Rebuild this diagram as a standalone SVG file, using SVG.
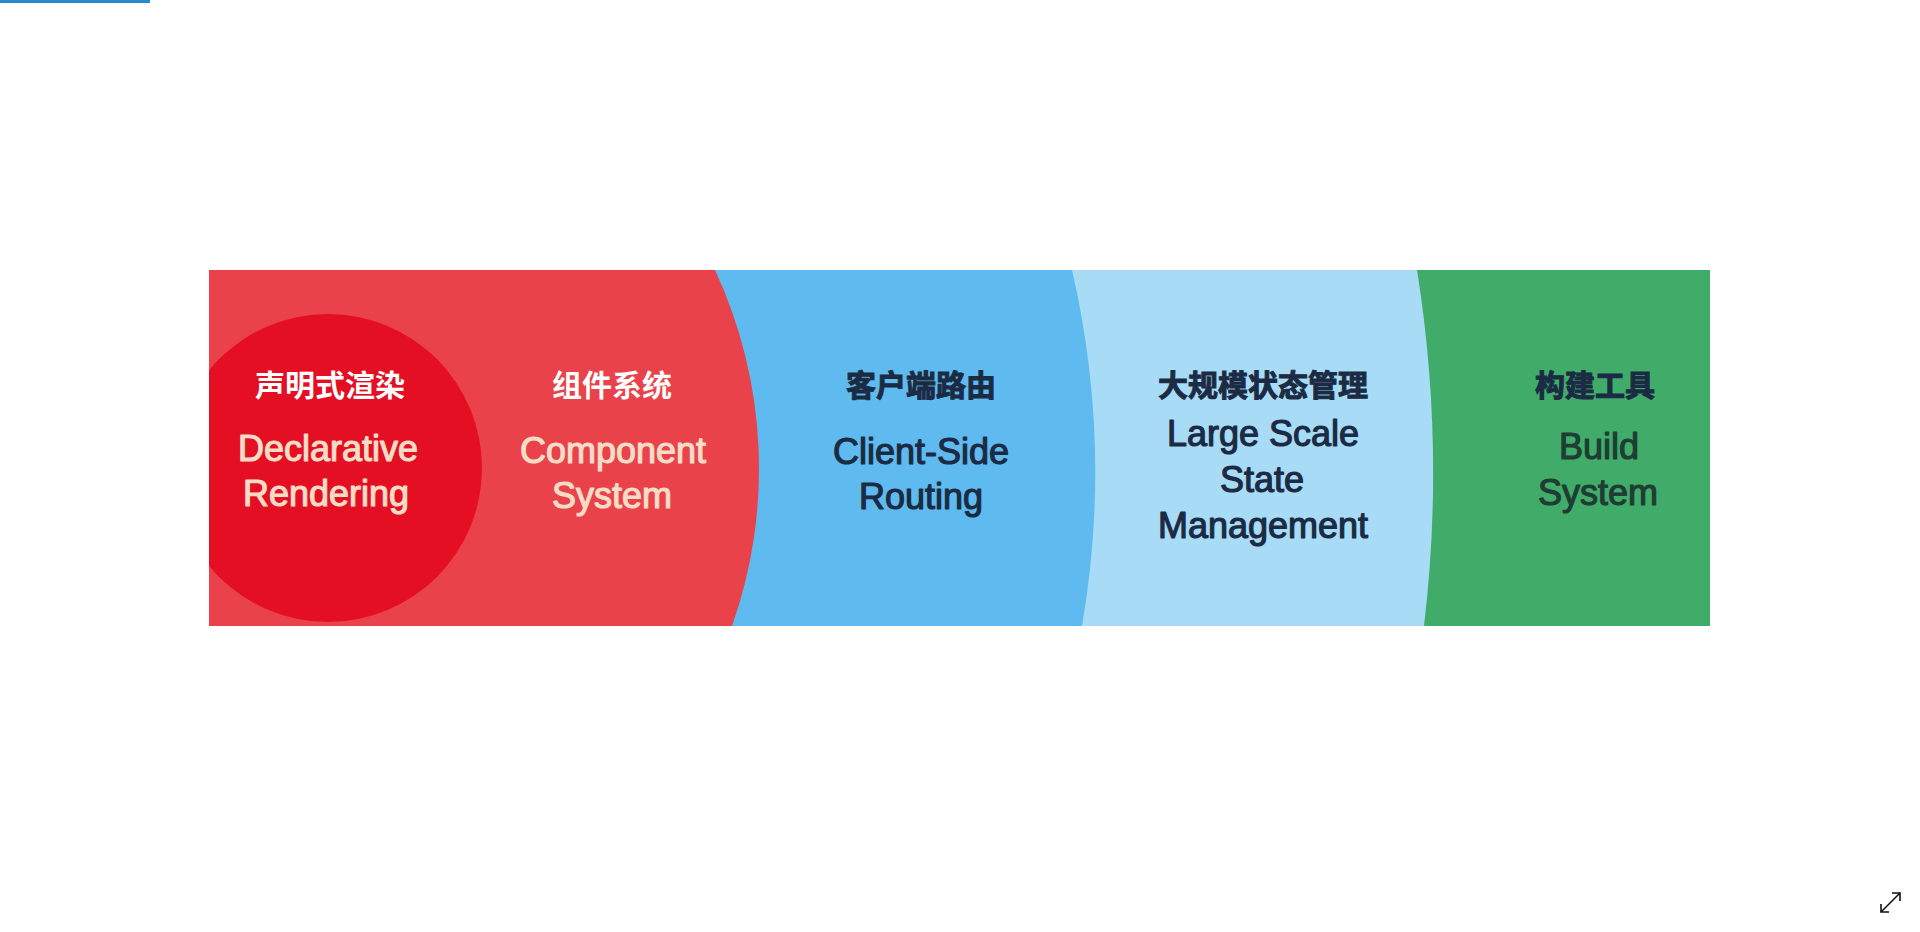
<svg xmlns="http://www.w3.org/2000/svg" width="1920" height="932" viewBox="0 0 1920 932">
  <style>
    .cn { font-family: "Noto Sans CJK SC", "Noto Sans", sans-serif; font-weight: 700; font-size: 30px; text-anchor: middle; }
    .en { font-family: "Liberation Sans", Arial, sans-serif; font-size: 36px; text-anchor: middle; stroke-width: 1.2px; stroke-linejoin: round; }
    .cream { fill: #f6dcc6; stroke: #f6dcc6; }
    .navy { fill: #1b2b44; stroke: #1b2b44; }
    .dkgreen { fill: #1e3d34; stroke: #1e3d34; }
  </style>
  <defs>
    <clipPath id="band">
      <rect x="209" y="270" width="1501" height="356"/>
    </clipPath>
  </defs>
  <rect width="1920" height="932" fill="#ffffff"/>
  <rect x="0" y="0" width="150" height="3" fill="#2a88cc"/>

  <g id="bands" clip-path="url(#band)">
    <rect id="band-green" x="209" y="270" width="1501" height="356" fill="#41ac69"/>
    <path id="band-lightblue" d="M209,270 L1417,270 A1290,1290 0 0 1 1424,626 L209,626 Z" fill="#a8dbf6"/>
    <path id="band-blue" d="M209,270 L1072,270 A901,901 0 0 1 1082,626 L209,626 Z" fill="#5fbbef"/>
    <path id="band-red" d="M209,270 L715,270 A471,471 0 0 1 732,626 L209,626 Z" fill="#e9424b"/>
    <circle id="band-core" cx="328" cy="468" r="154" fill="#e40f22"/>
  </g>

  <g id="node-declarative">
    <text class="cn" x="330" y="396" fill="#ffffff">声明式渲染</text>
    <text class="en cream" x="328" y="461">Declarative</text>
    <text class="en cream" x="326" y="506">Rendering</text>
  </g>
  <g id="node-component">
    <text class="cn" x="612" y="396" fill="#ffffff">组件系统</text>
    <text class="en cream" x="613" y="463">Component</text>
    <text class="en cream" x="612" y="508">System</text>
  </g>
  <g id="node-routing">
    <text class="cn navy" x="921" y="396" stroke="none">客户端路由</text>
    <text class="en navy" x="921" y="464">Client-Side</text>
    <text class="en navy" x="921" y="509">Routing</text>
  </g>
  <g id="node-state">
    <text class="cn navy" x="1263" y="396" stroke="none">大规模状态管理</text>
    <text class="en navy" x="1263" y="446">Large Scale</text>
    <text class="en navy" x="1262" y="492">State</text>
    <text class="en navy" x="1263" y="538">Management</text>
  </g>
  <g id="node-build">
    <text class="cn navy" x="1595" y="396" stroke="none">构建工具</text>
    <text class="en dkgreen" x="1599" y="459">Build</text>
    <text class="en dkgreen" x="1598" y="505">System</text>
  </g>

  <g id="connectors"></g>

  <g id="expand-icon" fill="none" stroke="#111111" stroke-width="1.6">
    <line x1="1881" y1="912" x2="1900" y2="893"/>
    <polyline points="1892,893 1900,893 1900,901"/>
    <polyline points="1881,904 1881,912 1889,912"/>
  </g>
</svg>
